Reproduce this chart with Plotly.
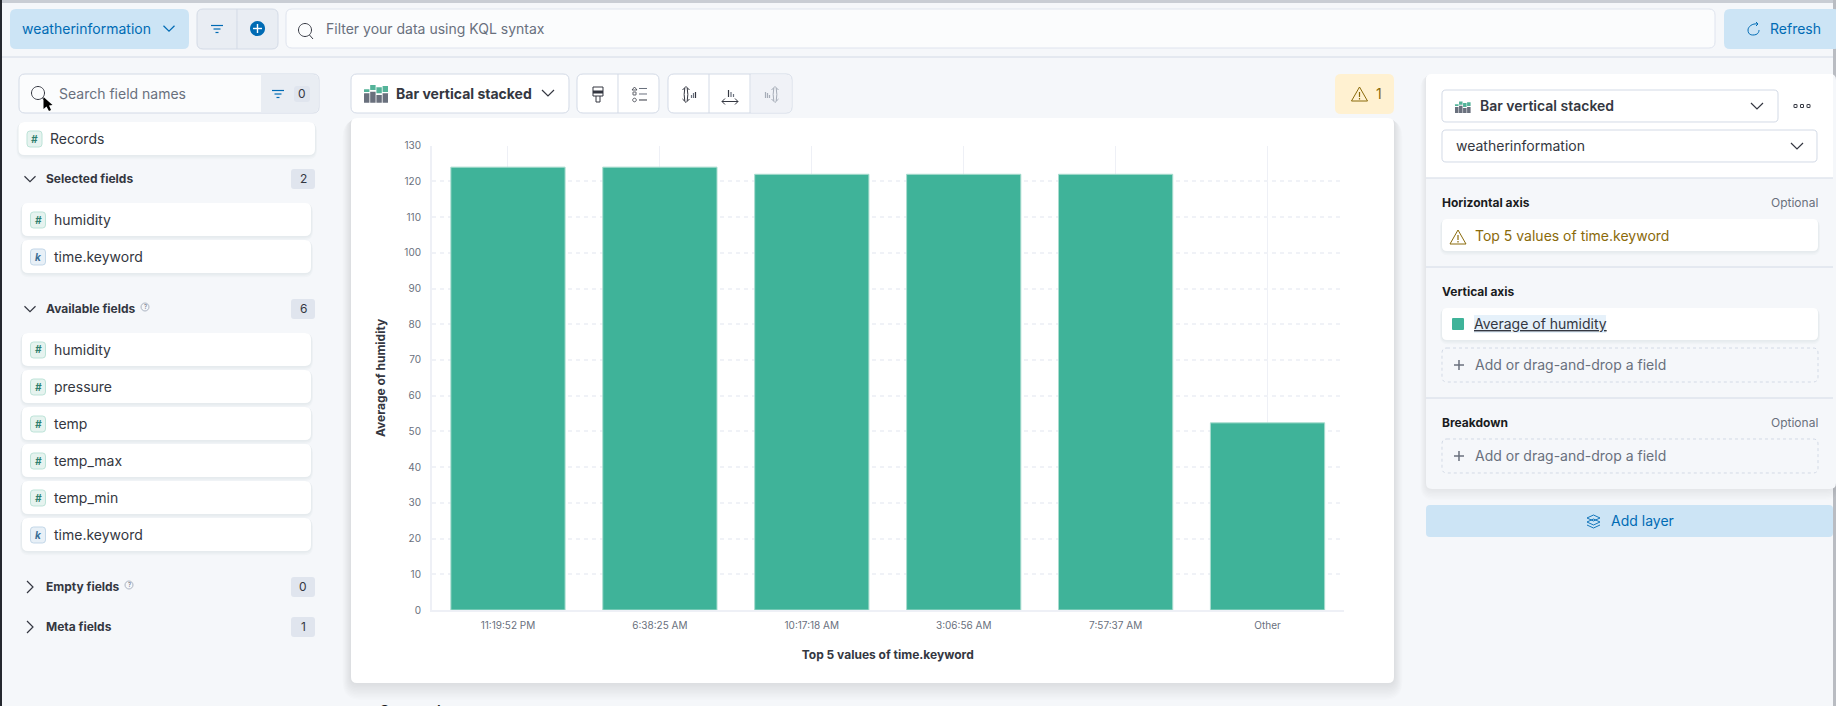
import plotly.graph_objects as go

W, H = 1836, 706

# chart values
categories = ['11:19:52 PM', '6:38:25 AM', '10:17:18 AM', '3:06:56 AM', '7:57:37 AM', 'Other']
avg_humidity = [124, 124, 122, 122, 122, 52.4]
y_ticks = [0, 10, 20, 30, 40, 50, 60, 70, 80, 90, 100, 110, 120, 130]

# left sidebar lists
selected_fields = ['humidity', 'time.keyword']
available_fields = ['humidity', 'pressure', 'temp', 'temp_max', 'temp_min', 'time.keyword']
available_tops = [333, 370, 407, 444, 481, 518]
field_counts = {'Selected fields': 2, 'Available fields': 6, 'Empty fields': 0, 'Meta fields': 1}

BG = '#f5f7fa'
BLUE_BTN = '#cce4f5'
BLUE = '#006bb4'
BORDER = '#d3dae6'
DARK = '#343741'
GREY = '#69707d'
TEAL = '#3fb399'
AMBER = '#8a6a0a'
FONT = 'Inter'

shapes = []
notes = []


def to_paper(d):
    # path strings below are written in screen pixels
    out = []
    is_x = True
    for tok in d.split():
        if tok.isalpha():
            out.append(tok)
        else:
            val = float(tok)
            out.append(f'{val / W:.5f}' if is_x else f'{1 - val / H:.5f}')
            is_x = not is_x
    return ' '.join(out)


def path(d, fill=None, line=None, width=1, dash=None):
    shapes.append(dict(
        type='path', path=to_paper(d), xref='paper', yref='paper', layer='below',
        fillcolor=fill if fill else 'rgba(0,0,0,0)',
        line=dict(color=line if line else 'rgba(0,0,0,0)', width=width if line else 0, dash=dash),
    ))


def box(x0, y0, x1, y1, fill=None, line=None, r=6, width=1, dash=None):
    d = (f'M {x0 + r} {y0} L {x1 - r} {y0} Q {x1} {y0} {x1} {y0 + r} L {x1} {y1 - r} '
         f'Q {x1} {y1} {x1 - r} {y1} L {x0 + r} {y1} Q {x0} {y1} {x0} {y1 - r} '
         f'L {x0} {y0 + r} Q {x0} {y0} {x0 + r} {y0} Z')
    path(d, fill, line, width, dash)


def left_box(x0, y0, x1, y1, fill, r=6):
    # square on the left, rounded on the right
    d = (f'M {x0} {y0} L {x1 - r} {y0} Q {x1} {y0} {x1} {y0 + r} L {x1} {y1 - r} '
         f'Q {x1} {y1} {x1 - r} {y1} L {x0} {y1} Z')
    path(d, fill)


def shadow(x0, y0, x1, y1, r=6, depth=10, alpha=0.012):
    for i in range(depth, 0, -1):
        box(x0 - i * 0.7, y0 + i * 0.1, x1 + i * 0.7, y1 + i * 1.4,
            fill=f'rgba(60,70,100,{alpha})', r=r + i)


def card(x0, y0, x1, y1, r=6):
    shadow(x0, y0, x1, y1, r=r, depth=3, alpha=0.022)
    box(x0, y0, x1, y1, fill='white', r=r)


def hline(x0, x1, y, color=BORDER, width=1):
    path(f'M {x0} {y} L {x1} {y}', line=color, width=width)


def vline(x, y0, y1, color=BORDER, width=1):
    path(f'M {x} {y0} L {x} {y1}', line=color, width=width)


def chevron(x, y, size=6, kind='down', color=DARK, width=1.2):
    if kind == 'down':
        path(f'M {x - size} {y - size / 2} L {x} {y + size / 2} L {x + size} {y - size / 2}', line=color, width=width)
    else:
        path(f'M {x - size / 2} {y - size} L {x + size / 2} {y} L {x - size / 2} {y + size}', line=color, width=width)


def circle(x, y, r, fill=None, line=None, width=1):
    k = r * 0.5523
    d = (f'M {x - r} {y} C {x - r} {y - k} {x - k} {y - r} {x} {y - r} '
         f'C {x + k} {y - r} {x + r} {y - k} {x + r} {y} '
         f'C {x + r} {y + k} {x + k} {y + r} {x} {y + r} '
         f'C {x - k} {y + r} {x - r} {y + k} {x - r} {y} Z')
    path(d, fill, line, width)


def text(x, y, s, size=14, color=DARK, anchor='left', bold=False, family=FONT):
    # annotations carry a little padding, pull it back
    shift = {'left': -2, 'right': 2, 'center': 0}[anchor]
    notes.append(dict(
        x=(x + shift) / W, y=1 - (y - 0.5) / H, xref='paper', yref='paper',
        text=f'<b>{s}</b>' if bold else s,
        showarrow=False, xanchor=anchor, yanchor='middle',
        font=dict(family=family, size=size, color=color),
    ))


def search_icon(x, y, color=DARK):
    circle(x, y, 6.5, line=color, width=1)
    path(f'M {x + 4.5} {y + 5} L {x + 8} {y + 9}', line=color, width=1)


def filter_icon(x, y):
    hline(x - 6, x + 6, y - 3.5, BLUE, 1.2)
    hline(x - 3.5, x + 3.5, y, BLUE, 1.2)
    hline(x - 1.5, x + 1.5, y + 3.5, BLUE, 1.2)


def warn_icon(x, y, color=AMBER):
    path(f'M {x} {y - 7} L {x + 8} {y + 7} L {x - 8} {y + 7} Z', line=color, width=1)
    vline(x, y - 2, y + 3, color, 1.2)
    vline(x, y + 4, y + 5.5, color, 1.2)


def chart_icon(x, y, s=1.0):
    # small stacked bars, x/y is the top left corner
    pieces = [(8.3, 4.3, 7), (6.7, 0, 5), (10, 2.3, 8.3), (8.3, 1, 7)]
    for i, (grey_top, teal_top, teal_bot) in enumerate(pieces):
        bx = x + i * 6.2 * s
        box(bx, y + grey_top * s, bx + 5.4 * s, y + 17.7 * s, fill=GREY, r=0.1)
        box(bx, y + teal_top * s, bx + 5.4 * s, y + teal_bot * s, fill='#54b399', r=0.1)


def token(x, y, kind):
    # field type badge, x/y is the top left corner
    if kind == 'k':
        box(x, y, x + 15, y + 16, fill='#e8f0f7', line='#c3d7e8', r=3)
        text(x + 7.5, y + 8, '<i>k</i>', size=10, color='#3a6d94', anchor='center', bold=True)
    else:
        box(x, y, x + 15, y + 16, fill='#e6f3ef', line='#bde3d8', r=3)
        text(x + 7.5, y + 8, '<i>#</i>', size=10, color='#2f7f6e', anchor='center', bold=True)


def field_row(x0, x1, top, name):
    card(x0, top, x1, top + 33, r=6)
    token(x0 + 8.5, top + 9, 'k' if name.endswith('keyword') else '#')
    text(x0 + 32, top + 17, name, size=14, color=DARK)


def section_head(y, label, badge_top, opened=True):
    chevron(30, y, 5.5 if opened else 6, 'down' if opened else 'right', DARK)
    text(46, y, label, size=12, color=DARK, bold=True)
    box(291, badge_top, 315, badge_top + 20, fill='#e0e5ee', r=3)
    text(303, badge_top + 10, str(field_counts[label]), size=12, color=DARK, anchor='center')


def help_icon(x, y):
    circle(x, y, 4, line='#98a2b3', width=0.8)
    text(x, y, '?', size=6, color='#69707d', anchor='center')


def axis_arrows(ax, col):
    # vertical double arrow of the axis buttons
    path(f'M {ax - 3.5} 90 L {ax} 86.5 L {ax + 3.5} 90', line=col, width=1)
    path(f'M {ax - 1.2} 88 Q {ax - 2.5} 94.5 {ax - 1.2} 101', line=col, width=1)
    path(f'M {ax + 1.2} 88 Q {ax + 2.5} 94.5 {ax + 1.2} 101', line=col, width=1)
    path(f'M {ax - 3.5} 99 L {ax} 102.5 L {ax + 3.5} 99', line=col, width=1)


# page edges
path(f'M 0 0 L {W} 0 L {W} 3 L 0 3 Z', fill='#c9cdd4')
path(f'M 0 0 L 2 0 L 2 {H} L 0 {H} Z', fill='#25282f')
path(f'M {W - 3} 0 L {W} 0 L {W} {H} L {W - 3} {H} Z', fill='#b9bcc2')
hline(2, W - 3, 57)

# top bar
box(10, 9, 189, 49, fill=BLUE_BTN)
text(22, 29, 'weatherinformation', size=14, color=BLUE)
chevron(169, 28.5, 5.5, 'down', BLUE)
box(197, 9, 278, 49, fill='#e9edf3', line=BORDER)
vline(237, 9, 49)
filter_icon(217, 29)
circle(257.5, 28.5, 7.5, fill=BLUE)
hline(253, 262, 28.5, 'white', 1.4)
vline(257.5, 24, 33, 'white', 1.4)
box(286, 9, 1715, 48, fill='#fbfcfd', line='#dfe4ee')
search_icon(305, 30)
text(326, 29, 'Filter your data using KQL syntax', size=14, color=GREY)
box(1724, 9, 1840, 49, fill=BLUE_BTN)
path('M 1758 24 C 1752 23 1748 27 1748 30 C 1748 35 1752 35 1753 35 C 1758 35 1759 32 1759 30', line=BLUE, width=1)
path('M 1756 22 L 1758 24 L 1756 26', line=BLUE, width=1)
text(1769.5, 29, 'Refresh', size=14, color=BLUE)

# left sidebar
box(19, 74, 319, 113, fill='#fbfcfd', line=BORDER)
left_box(261, 74.5, 318.5, 112.5, '#e9edf3')
search_icon(38, 93)
text(59, 94, 'Search field names', size=14, color=GREY)
filter_icon(278, 94)
box(294, 86, 310, 102, fill='#e0e5ee', r=3)
text(302, 94, '0', size=12, color=DARK, anchor='center')
path('M 43.5 97 L 43.5 109 L 46.5 106.5 L 49 111 L 51 110 L 49 105.5 L 52.5 105 Z', fill='black')

field_row(18.5, 315, 122, 'Records')
notes[-1]['x'] = 48 / W
section_head(179, 'Selected fields', 169)
for name, top in zip(selected_fields, [203, 240]):
    field_row(22, 311, top, name)
section_head(309, 'Available fields', 299)
help_icon(145, 307)
for name, top in zip(available_fields, available_tops):
    field_row(22, 311, top, name)
section_head(587, 'Empty fields', 577, opened=False)
help_icon(129, 585)
section_head(627, 'Meta fields', 617, opened=False)

# chart toolbar
box(351, 74, 569, 113, fill='white', line=BORDER)
chart_icon(364, 85)
text(396, 94, 'Bar vertical stacked', size=14, color=DARK, bold=True)
chevron(548, 93, 6, 'down', DARK)
box(577, 74, 659, 113, fill='white', line=BORDER)
vline(618, 74, 113)
box(668, 74, 792, 113, fill='white', line=BORDER)
vline(709, 74, 113)
left_box(750.5, 74.5, 791.5, 112.5, '#f0f2f7')
vline(750, 74, 113)

# brush icon
path('M 593 87 L 603 87 L 603 96 L 593 96 Z', line=DARK, width=1)
hline(593, 603, 92, DARK, 3)
path('M 596 96 L 596 102 L 600 102 L 600 96', line=DARK, width=1)
# list icon
path('M 632 90 L 634.5 87 L 637 90 Z', line=DARK, width=0.8)
box(633, 92, 636, 95, line=DARK, r=0.3, width=0.8)
circle(634.5, 100, 1.8, line=DARK, width=0.8)
hline(639, 647, 88.5, GREY, 1)
hline(639, 647, 94, GREY, 1)
hline(639, 647, 100, DARK, 1)
# axis settings icons
axis_arrows(686, DARK)
vline(691.5, 95, 98, GREY, 1.2)
vline(693.5, 93, 98, GREY, 1.2)
vline(695.5, 92, 98, DARK, 1.2)
axis_arrows(775, '#a6adb8')
vline(765.5, 92, 98, '#a6adb8', 1.2)
vline(767.5, 93, 98, '#a6adb8', 1.2)
vline(769.5, 95, 98, '#a6adb8', 1.2)
vline(728.5, 90, 97, DARK, 1.2)
vline(731, 92, 97, GREY, 1.2)
vline(733.5, 94, 97, GREY, 1.2)
path('M 725 98.5 L 722 101.5 L 725 104.5', line=DARK, width=1)
path('M 735 98.5 L 738 101.5 L 735 104.5', line=DARK, width=1)
hline(722, 738, 101.5, DARK, 1)

box(1335, 74, 1394, 114, fill='#fff1d1')
warn_icon(1359.5, 94)
text(1379, 94, '1', size=14, color=AMBER, anchor='center')

# chart panel
shadow(351, 118, 1394, 683, depth=12, alpha=0.01)
box(351, 118, 1394, 683, fill='white', r=6)

# right panel
shadow(1426, 74, 1833, 489, depth=8, alpha=0.012)
box(1426, 74, 1836, 489, fill=BG, r=6)
path('M 1432 74 L 1833 74 L 1833 178 L 1426 178 L 1426 80 Q 1426 74 1432 74 Z', fill='white')
hline(1426, 1833, 178)
hline(1426, 1833, 267)
hline(1426, 1833, 398)

box(1442, 90, 1778, 122, fill='white', line=BORDER, r=4)
chart_icon(1455, 101.5, 0.65)
text(1479.5, 106, '<span style="font-weight:600">Bar vertical stacked</span>', size=14, color=DARK)
chevron(1757, 106, 6, 'down', DARK)
for sx in [1795.5, 1802, 1808.5]:
    box(sx - 1.5, 104.5, sx + 1.5, 107.5, line=DARK, r=0.2, width=1)
box(1442, 130, 1817, 162, fill='white', line=BORDER, r=4)
text(1455.5, 146, 'weatherinformation', size=14, color=DARK)
chevron(1797, 146, 6, 'down', DARK)

text(1442, 203, 'Horizontal axis', size=12, color='#1a1c21', bold=True)
text(1818, 203, 'Optional', size=12, color=GREY, anchor='right')
card(1442, 219, 1818, 251, r=5)
warn_icon(1458, 237)
text(1475, 236, 'Top 5 values of time.keyword', size=14, color=AMBER)

text(1442, 292, 'Vertical axis', size=12, color='#1a1c21', bold=True)
card(1442, 308, 1818, 340, r=5)
box(1452, 318, 1464, 330, fill=TEAL, r=1)
box(1474, 315, 1606, 333, fill='#e6f1fa', r=0.5)
text(1474, 323.5, '<u>Average of humidity</u>', size=14, color=DARK)
box(1442, 348, 1818, 382, line='#d3dae6', r=5, dash='3px,3px')
hline(1454, 1464, 365, GREY, 1.5)
vline(1459, 360, 370, GREY, 1.5)
text(1475, 365, 'Add or drag-and-drop a field', size=14, color=GREY)

text(1442, 423, 'Breakdown', size=12, color='#1a1c21', bold=True)
text(1818, 423, 'Optional', size=12, color=GREY, anchor='right')
box(1442, 439, 1818, 473, line='#d3dae6', r=5, dash='3px,3px')
hline(1454, 1464, 456, GREY, 1.5)
vline(1459, 451, 461, GREY, 1.5)
text(1475, 456, 'Add or drag-and-drop a field', size=14, color=GREY)

box(1426, 505, 1833, 537, fill=BLUE_BTN, r=4)
path('M 1593.5 519 L 1600 522 L 1593.5 525 L 1587 522 Z', line=BLUE, width=0.9)
path('M 1587 525 L 1593.5 528 L 1600 525', line=BLUE, width=0.9)
path('M 1587 518 L 1593.5 515 L 1600 518 L 1593.5 521 Z', line=BLUE, width=0.9)
text(1611, 521, 'Add layer', size=14, color=BLUE)

# clipped by the bottom of the window, as in the original
text(380, 710.5, 'Suggestions', size=14, color='#1a1c21', bold=True)

fig = go.Figure(go.Bar(
    x=categories,
    y=avg_humidity,
    width=0.752,
    marker=dict(color=TEAL, line=dict(color='#a9dccf', width=1)),
))

fig.update_layout(
    width=W,
    height=H,
    margin=dict(l=0, r=0, t=0, b=0),
    paper_bgcolor=BG,
    plot_bgcolor='rgba(0,0,0,0)',
    font=dict(family=FONT, color=GREY),
    showlegend=False,
    shapes=shapes,
    annotations=notes,
    xaxis=dict(
        domain=[432 / W, 1343.5 / W],
        range=[-0.5, 5.5],
        type='category',
        tickfont=dict(size=10, color=GREY),
        ticks='outside', ticklen=5, tickcolor='rgba(0,0,0,0)',
        showgrid=True, gridcolor='#eef0f6', gridwidth=1,
        showline=True, linecolor='#eef0f6', linewidth=2,
        title=dict(
            text='<b>Top 5 values of time.keyword</b>',
            font=dict(size=12, color=DARK),
            standoff=21,
        ),
        automargin=False,
    ),
    yaxis=dict(
        domain=[1 - 610 / H, 1 - 145.7 / H],
        range=[0, 130],
        tickvals=y_ticks,
        tickfont=dict(size=10, color=GREY),
        ticks='outside', ticklen=7, tickcolor='rgba(0,0,0,0)',
        showgrid=True, gridcolor='#f0f2f7', gridwidth=1.5, griddash='4px,4px',
        showline=True, linecolor='#eef0f6', linewidth=2,
        zeroline=False,
        automargin=False,
        title=dict(
            text='<b>Average of humidity</b>',
            font=dict(size=12, color=DARK),
            standoff=16,
        ),
    ),
)

fig.write_html('out.html', config={'displayModeBar': False}, post_script="document.body.style.margin='0';")
